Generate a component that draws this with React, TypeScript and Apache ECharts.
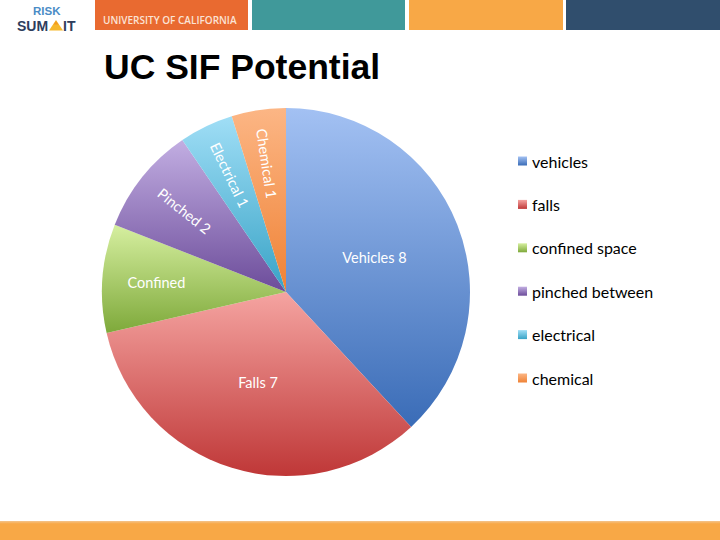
import React, { useEffect, useRef } from "react";
import * as echarts from "echarts";

const categories = ["vehicles", "falls", "confined space", "pinched between", "electrical", "chemical"];
const values = [8, 7, 2, 2, 1, 1];
const sliceLabels = ["Vehicles 8", "Falls 7", "Confined", "Pinched 2", "Electrical 1", "Chemical 1"];
const innerLabelIdx = [0, 1];
const radialLabelIdx = [3, 4, 5];
const topColors = ["#A3C1F3", "#F5A4A1", "#D6EFA0", "#C2AEE2", "#A0DEF6", "#FCB685"];
const bottomColors = ["#3A6CB7", "#BF3737", "#7EA93A", "#6C4C9A", "#38A3C6", "#EF8235"];

const FONT = "Lato, 'Open Sans', sans-serif";
const LOGO_FONT = "'Liberation Sans', Arial, sans-serif";

function grad(i: number) {
  return new echarts.graphic.LinearGradient(0, 0, 0, 1, [
    { offset: 0, color: topColors[i] },
    { offset: 1, color: bottomColors[i] },
  ]);
}

export default function App() {
  const ref = useRef<HTMLDivElement>(null);
  useEffect(() => {
    if (!ref.current) return;
    const chart = echarts.init(ref.current, undefined, { renderer: "svg" });
    const center = [286, 292];
    const R = 184;
    const mainData = categories.map((name, i) => ({
      name,
      value: values[i],
      itemStyle: { color: grad(i) },
      label: {
        show: innerLabelIdx.includes(i),
        formatter: sliceLabels[i],
      },
    }));
    const overlayData = categories.map((name, i) => ({
      name,
      value: values[i],
      itemStyle: { color: "rgba(0,0,0,0)" },
      label: {
        show: !innerLabelIdx.includes(i),
        formatter: sliceLabels[i],
        rotate: radialLabelIdx.includes(i) ? "radial" : 0,
      },
    }));
    chart.setOption({
      animation: false,
      backgroundColor: "#ffffff",
      legend: {
        orient: "vertical",
        left: 513,
        top: 148,
        padding: 5,
        itemWidth: 9,
        itemHeight: 9,
        itemGap: 27.4,
        icon: "rect",
        selectedMode: false,
        data: categories,
        textStyle: { fontFamily: FONT, fontSize: 16, lineHeight: 16, color: "#000000" },
      },
      graphic: [
        { type: "rect", shape: { x: 95, y: 0, width: 153, height: 30 }, style: { fill: "#E96A30" } },
        { type: "rect", shape: { x: 252, y: 0, width: 153, height: 30 }, style: { fill: "#40999A" } },
        { type: "rect", shape: { x: 409, y: 0, width: 154, height: 30 }, style: { fill: "#F8A846" } },
        { type: "rect", shape: { x: 566, y: 0, width: 154, height: 30 }, style: { fill: "#304E6D" } },
        {
          type: "text",
          x: 103,
          y: 20,
          style: {
            text: "UNIVERSITY OF CALIFORNIA",
            fill: "#FBE3D5",
            font: "600 10px 'Open Sans', sans-serif",
            lineHeight: 10,
            verticalAlign: "middle",
          },
        },
        {
          type: "text",
          x: 33,
          y: 11,
          style: {
            text: "RISK",
            fill: "#4A8CC6",
            font: "bold 11.5px " + LOGO_FONT,
            lineHeight: 10,
            verticalAlign: "middle",
          },
        },
        {
          type: "text",
          x: 17,
          y: 25.5,
          style: {
            text: "SUM",
            fill: "#2E3D5C",
            font: "bold 14px " + LOGO_FONT,
            lineHeight: 11,
            verticalAlign: "middle",
          },
        },
        {
          type: "polygon",
          shape: { points: [[49, 30.5], [56, 20], [63, 30.5]] },
          style: { fill: "#F6B72A" },
        },
        {
          type: "polygon",
          shape: { points: [[53.5, 24.5], [56, 21], [58.5, 24.5]] },
          style: { fill: "#F39A1E" },
        },
        {
          type: "text",
          x: 63,
          y: 25.5,
          style: {
            text: "IT",
            fill: "#2E3D5C",
            font: "bold 14px " + LOGO_FONT,
            lineHeight: 11,
            verticalAlign: "middle",
          },
        },
        {
          type: "text",
          x: 104,
          y: 49,
          style: {
            text: "UC SIF Potential",
            fill: "#000000",
            font: "bold 35.5px 'Liberation Sans', Arial, sans-serif",
            verticalAlign: "top",
          },
        },
        {
          type: "rect",
          shape: { x: 0, y: 521, width: 720, height: 19 },
          style: {
            fill: new echarts.graphic.LinearGradient(0, 0, 0, 1, [
              { offset: 0, color: "#F4C48C" },
              { offset: 0.15, color: "#F8A846" },
              { offset: 1, color: "#F8A846" },
            ]),
          },
        },
      ],
      series: [
        {
          type: "pie",
          center,
          radius: [0, R],
          startAngle: 90,
          clockwise: true,
          silent: true,
          avoidLabelOverlap: false,
          label: {
            position: "inside",
            color: "#ffffff",
            fontFamily: FONT,
            fontSize: 14.5,
          },
          labelLine: { show: false },
          itemStyle: { borderWidth: 0 },
          data: mainData,
        },
        {
          type: "pie",
          center,
          radius: [70, R],
          startAngle: 90,
          clockwise: true,
          silent: true,
          avoidLabelOverlap: false,
          label: {
            position: "inside",
            color: "#ffffff",
            fontFamily: FONT,
            fontSize: 14.5,
          },
          labelLine: { show: false },
          itemStyle: { borderWidth: 0 },
          data: overlayData,
        },
      ],
    });
    return () => chart.dispose();
  }, []);
  return (
    <div
      ref={ref}
      style={{ position: "fixed", left: 0, top: 0, width: 720, height: 540 }}
    />
  );
}
